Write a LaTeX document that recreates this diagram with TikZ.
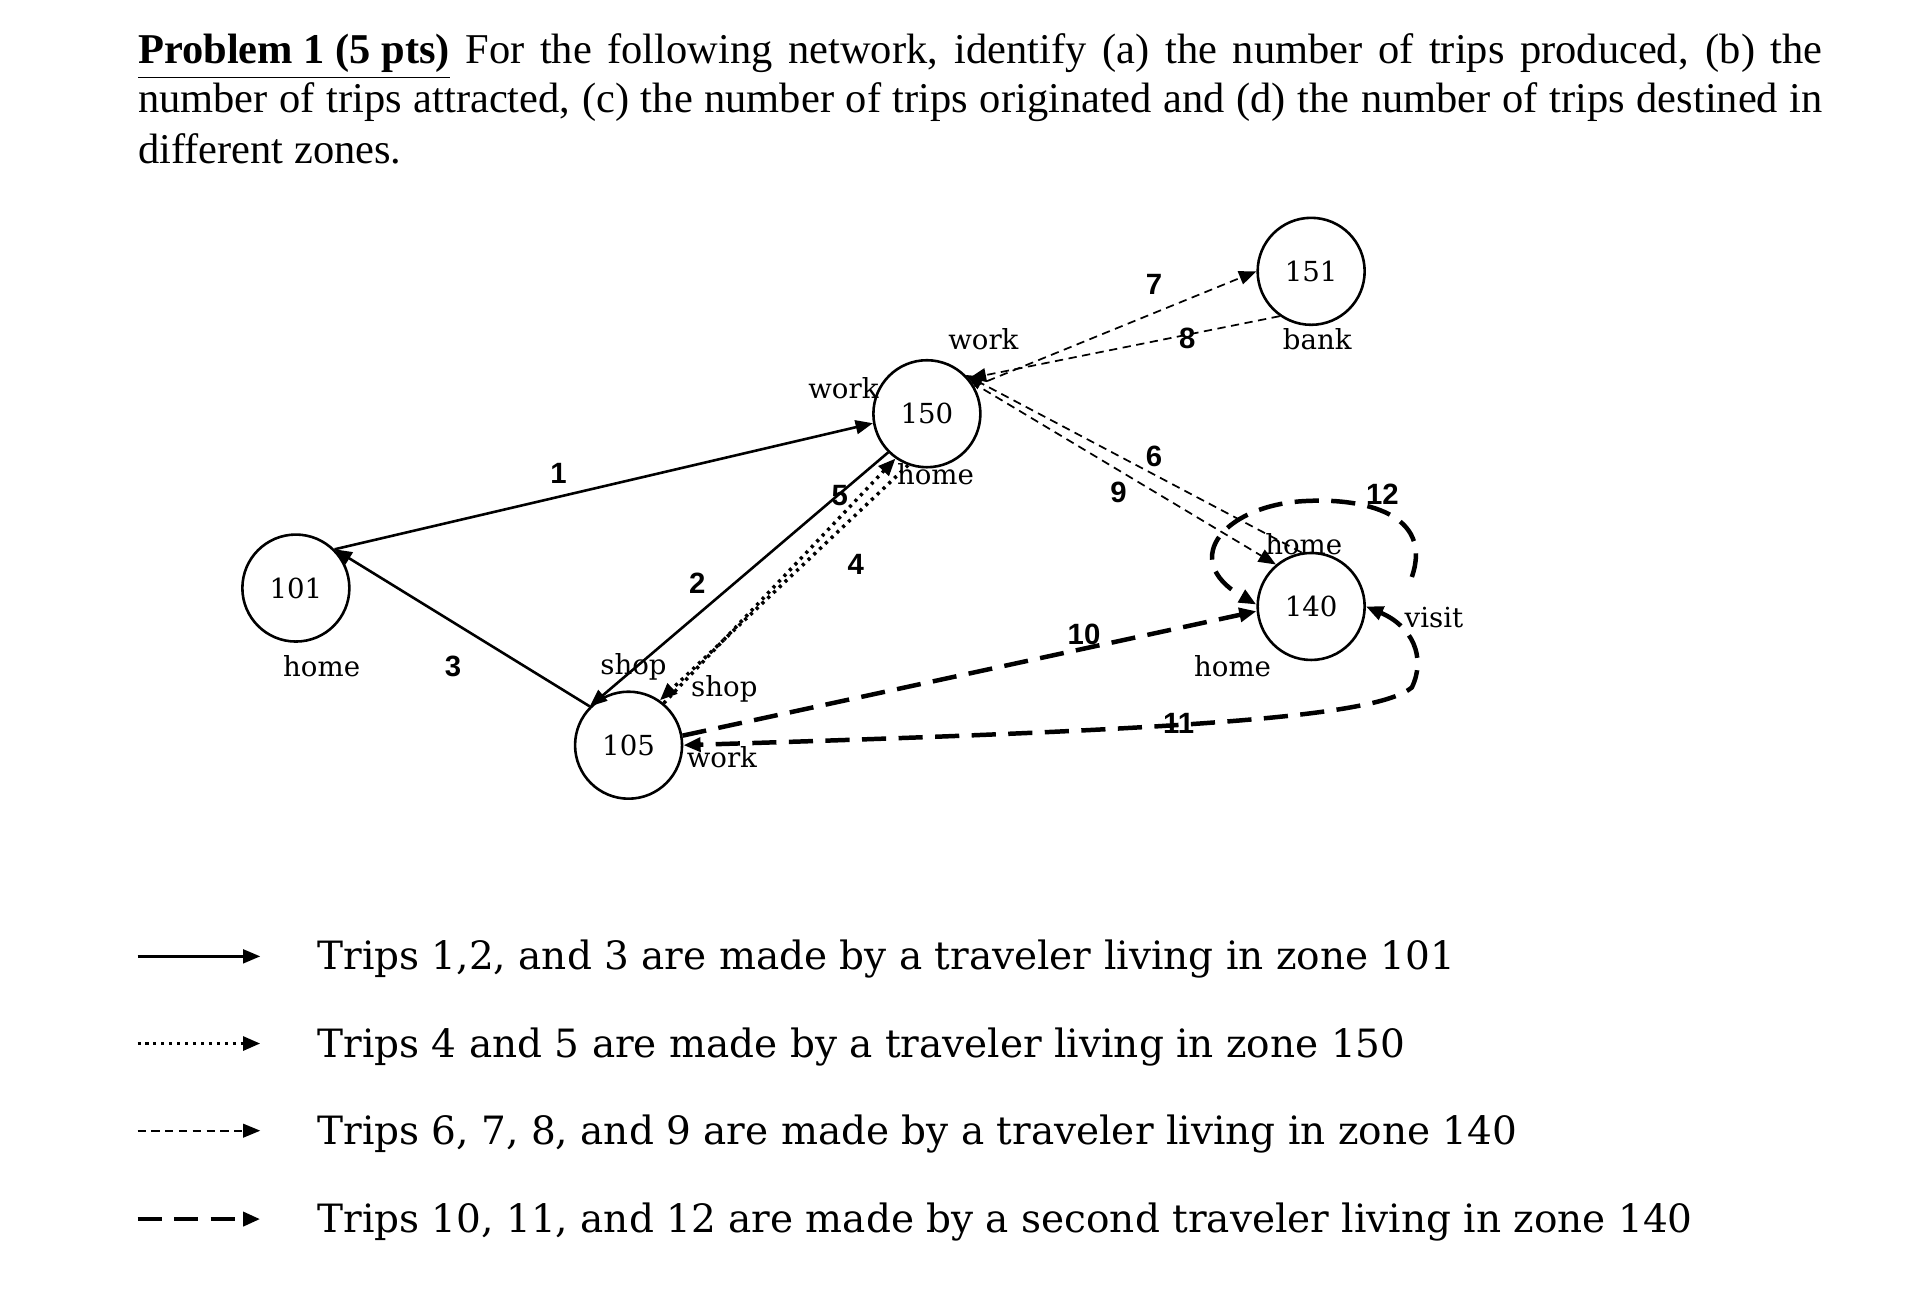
\documentclass[tikz,border=0pt]{standalone}
\usepackage{fontspec}
\setmainfont{Liberation Serif}
\newfontfamily\bkm{DejaVu Serif}
\newfontfamily\numf{Liberation Sans}
\usetikzlibrary{arrows.meta}
\begin{document}
\begin{tikzpicture}[x=0.36pt,y=-0.36pt,
  zone/.style={circle,draw,line width=0.75pt,minimum size=31pt,inner sep=0pt,font=\bkm\fontsize{8}{9}\selectfont},
  lab/.style={font=\bkm\fontsize{8}{9}\selectfont,inner sep=0pt},
  num/.style={font=\numf\bfseries\fontsize{8.5}{9}\selectfont,inner sep=0pt},
  tip/.style={-{Triangle[length=5pt,width=4pt]}},
  solidl/.style={line width=0.75pt,tip},
  dotl/.style={line width=1pt,dash pattern=on 0.9pt off 1.4pt,tip},
  dashs/.style={line width=0.5pt,dash pattern=on 2.4pt off 1.6pt,tip},
  dashl/.style={line width=1.3pt,dash pattern=on 7pt off 3.6pt,tip},
  leg/.style={font=\bkm\fontsize{11.3}{12}\selectfont,anchor=base west,inner sep=0pt}]
\useasboundingbox (0,0) rectangle (1550,1048);
\begin{scope}[scale=0.988]
\fontsize{12.3}{14}\selectfont
\node[anchor=base west,inner sep=0pt] (h1) at (112,52) {\hbox to 488pt{\underline{\textbf{Problem 1 (5 pts)}} For the following network, identify (a) the number of trips produced, (b) the}};
\node[anchor=base west,inner sep=0pt] (h2) at (112,92) {\hbox to 488pt{number of trips attracted, (c) the number of trips originated and (d) the number of trips destined in}};
\node[anchor=base west,inner sep=0pt] (h3) at (112,133) {different zones.};
% zones
\node[zone] (z101) at (241,479) {101};
\node[zone] (z150) at (755,337) {150};
\node[zone] (z151) at (1068,221) {151};
\node[zone] (z140) at (1068,494) {140};
\node[zone] (z105) at (512,607) {105};
% labels
\node[lab] (l1) at (262,543) {home};
\node[lab] (l2) at (516,543) {shop};
\node[lab] (l3) at (590,561) {shop};
\node[lab] (l4) at (588,617) {work};
\node[lab] (l5) at (687,316) {work};
\node[lab] (l6) at (801,276) {work};
\node[lab] (l7) at (762,386) {home};
\node[lab] (l8) at (1073,276) {bank};
\node[lab] (l9) at (1062,443) {home};
\node[lab] (l10) at (1168,503) {visit};
\node[lab] (l11) at (1004,543) {home};
\node[num] (n1) at (455,386) {1};
\node[num] (n2) at (568,475) {2};
\node[num] (n3) at (369,543) {3};
\node[num] (n4) at (697,460) {4};
\node[num] (n5) at (684,404) {5};
\node[num] (n6) at (940,372) {6};
\node[num] (n7) at (940,232) {7};
\node[num] (n8) at (967,276) {8};
\node[num] (n9) at (911,401) {9};
\node[num] (n10) at (883,517) {10};
\node[num] (n11) at (960,589) {11};
\node[num] (n12) at (1126,403) {12};
% edges
\draw[solidl] (z101.north east) -- (z150.190);
\draw[solidl] (z150.225) -- (z105.north west);
\draw[solidl] (z105.north west) -- (z101.north east);
\draw[dotl] (z150.250) -- (z105.55);
\draw[dotl] (z105.50) -- (z150.235);
\draw[dashs] (z150.30) -- (z151.180);
\draw[dashs] (z151.235) -- (z150.40);
\draw[dashs] (z140.100) -- (z150.45);
\draw[dashs] (z150.35) -- (z140.130);
\draw[dashl] (z105.10) -- (z140.185);
\draw[dashl] (1150,470) .. controls (1168,418) and (1110,406) .. (1066,408) .. controls (1000,410) and (958,455) .. (z140.178);
\draw[dashl,{Triangle[length=5pt,width=4pt]}-{Triangle[length=5pt,width=4pt]}] (z140.east) .. controls (1150,510) and (1162,535) .. (1150,560) .. controls (1120,585) and (950,595) .. (z105.east);
% legend
\draw[solidl] (112,779) -- (212,779);
\draw[dotl] (112,850) -- (212,850);
\draw[dashs] (112,921) -- (212,921);
\draw[dashl] (112,993) -- (212,993);
\node[leg] (t1) at (258,790) {Trips 1,2, and 3 are made by a traveler living in zone 101};
\node[leg] (t2) at (258,861) {Trips 4 and 5 are made by a traveler living in zone 150};
\node[leg] (t3) at (258,932) {Trips 6, 7, 8, and 9 are made by a traveler living in zone 140};
\node[leg] (t4) at (258,1004) {Trips 10, 11, and 12 are made by a second traveler living in zone 140};
\end{scope}
\end{tikzpicture}
\end{document}
